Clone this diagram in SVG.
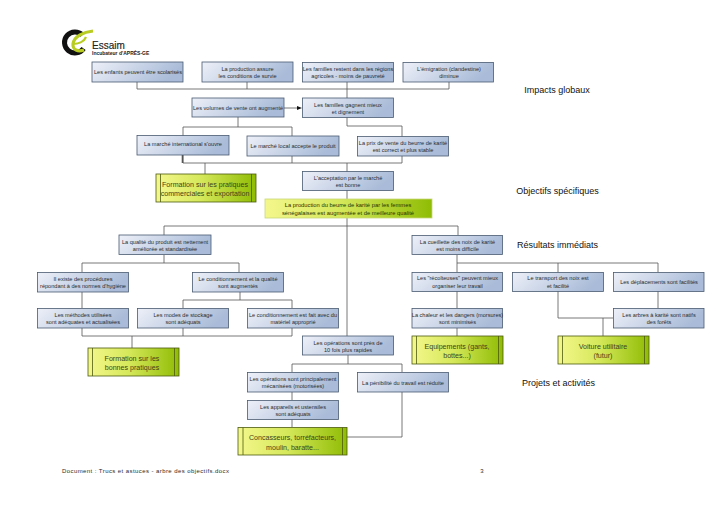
<svg xmlns="http://www.w3.org/2000/svg" width="728" height="515" viewBox="0 0 728 515">
<defs>
<linearGradient id="blue" x1="0" y1="0" x2="1" y2="0.25"><stop offset="0" stop-color="#edf0f8"/><stop offset="1" stop-color="#a9bbd8"/></linearGradient>
<linearGradient id="green" x1="0" y1="0" x2="1" y2="0"><stop offset="0" stop-color="#f4f78c"/><stop offset="0.45" stop-color="#d5e85a"/><stop offset="1" stop-color="#8fbc04"/></linearGradient>
</defs>
<style>
text{font-family:"Liberation Sans",Arial,sans-serif;text-anchor:middle;fill:#2b2b2b}
.b rect{fill:url(#blue);stroke:#4a5a70;stroke-width:.8}
.b text{font-size:5.6px}
.g rect{fill:url(#green);stroke:#4d5a10;stroke-width:.8}
.g line{stroke:#4d5a10;stroke-width:.8}
.g text{font-size:7.1px;fill:#3f4418}
.y rect{fill:url(#green);stroke:#c8d878;stroke-width:.8}
.y text{font-size:5.8px;fill:#2b3000}
.t{font-size:9px;fill:#111}
#connectors path{fill:none;stroke:#555;stroke-width:.8}
#connectors path.head{fill:#111;stroke:none}
</style>
<rect width="728" height="515" fill="#fff"/>
<g id="logo">
<path d="M82.400 35A10.500 10.500 0 1 0 83.600 48.500" fill="none" stroke="#111" stroke-width="5"/>
<path d="M93 31C84 32 74 36 73 44C72.500 50 78 52 84 50" fill="none" stroke="#b8cc22" stroke-width="3.200"/>
<path d="M73 44C78 44 84 42 86 37" fill="none" stroke="#b8cc22" stroke-width="2.200"/>
<text x="92" y="49" style="font-size:10px;text-anchor:start;fill:#222;stroke:#222;stroke-width:.15">Essaim</text>
<text x="92" y="55.300" style="font-size:5px;text-anchor:start;font-weight:bold;fill:#222">Incubateur d'APRÈS-GE</text>
</g>
<g id="connectors">
<path d="M137 82V89H449V82M247 82V89M347 82V98"/>
<path d="M284 108H299"/><path class="head" d="M297 106L302 108L297 110Z"/>
<path d="M238 117V127M183 136V127H292V136"/>
<path d="M347 117V126H402V137"/>
<path d="M183 155V163H402V156M292 156V163M347 163V172M205 163V174"/>
<path d="M182.500 155V163" style="stroke-width:1.600"/>
<path d="M347 190V199M347 218V336M164 235V226H458V235"/>
<path d="M164 255V263M82 272V263H239V272"/>
<path d="M82 292V308M240 292V300M183 308V300H292V308"/>
<path d="M82 328V336H292V328M183 328V336M132 336V348"/>
<path d="M348 355V364M292 372V364H402V372M292 392V400M292 419V427M402 392V437H347"/>
<path d="M457 255V272M457 263H658V272M558 263V272"/>
<path d="M457 291V308M457 328V336M558 291V318H613M658 291V308M603 318V336"/>
</g>
<g id="n1" class="b"><rect x="92" y="62" width="91" height="20"/><text x="138" y="74">Les enfants peuvent être scolarisés</text></g>
<g id="n2" class="b"><rect x="202" y="62" width="91" height="20"/><text x="247.500" y="70.500">La production assure</text><text x="247.500" y="77.500">les conditions de survie</text></g>
<g id="n3" class="b"><rect x="302.500" y="62.500" width="91" height="19.500"/><text x="348" y="70.500">Les familles restent dans les régions</text><text x="348" y="77.500">agricoles - moins de pauvreté</text></g>
<g id="n4" class="b"><rect x="403" y="62.500" width="90.500" height="19.500"/><text x="449" y="70.500">L'émigration (clandestine)</text><text x="449" y="77.500">diminue</text></g>
<g id="n5" class="b"><rect x="192" y="98" width="92" height="19"/><text x="238" y="110">Les volumes de vente ont augmenté</text></g>
<g id="n6" class="b"><rect x="302.500" y="98" width="91" height="19.500"/><text x="348" y="106.500">Les familles gagnent mieux</text><text x="348" y="113.500">et dignement</text></g>
<g id="n7" class="b"><rect x="137" y="135.500" width="92" height="19.500"/><text x="183" y="146">La marché international s'ouvre</text></g>
<g id="n8" class="b"><rect x="247" y="136" width="92" height="20"/><text x="293" y="148">Le marché local accepte le produit</text></g>
<g id="n9" class="b"><rect x="357.500" y="136.500" width="91" height="19.500"/><text x="403" y="144.500">La prix de vente du beurre de karité</text><text x="403" y="151.500">est correct et plus stable</text></g>
<g id="n10" class="b"><rect x="302.500" y="171.500" width="91" height="19"/><text x="348" y="179.500">L'acceptation par le marché</text><text x="348" y="186.500">est bonne</text></g>
<g id="n11" class="g"><rect x="156" y="174" width="100" height="28"/><line x1="160.500" y1="174" x2="160.500" y2="202"/><line x1="251.500" y1="174" x2="251.500" y2="202"/><text x="205" y="186.500">Formation sur les pratiques</text><text x="205" y="195.500">commerciales et exportation</text></g>
<g id="n12" class="y"><rect x="265" y="199" width="167" height="19"/><text x="348" y="207">La production du beurre de karité par les femmes</text><text x="348" y="214.500">sénégalaises est augmentée et de meilleure qualité</text></g>
<g id="n13" class="b"><rect x="119" y="235" width="92" height="19.500"/><text x="165" y="243.500">La qualité du produit est nettement</text><text x="165" y="250.500">améliorée et standardisée</text></g>
<g id="n14" class="b"><rect x="412" y="235.500" width="90.500" height="19"/><text x="457.500" y="243.500">La cueillette des noix de karité</text><text x="457.500" y="250.500">est moins difficile</text></g>
<g id="n15" class="b"><rect x="37.500" y="272.500" width="91" height="19.500"/><text x="83" y="280.500">Il existe des procédures</text><text x="83" y="287.500">répondant à des normes d'hygiène</text></g>
<g id="n16" class="b"><rect x="192.500" y="272.500" width="91" height="19.500"/><text x="238" y="280.500">Le conditionnement et la qualité</text><text x="238" y="287.500">sont augmentés</text></g>
<g id="n17" class="b"><rect x="412" y="272.500" width="90.500" height="19"/><text x="457.500" y="280">Les "récolteuses" peuvent mieux</text><text x="457.500" y="287.500">organiser leur travail</text></g>
<g id="n18" class="b"><rect x="512.500" y="272.500" width="91" height="19"/><text x="558" y="280">Le transport des noix est</text><text x="558" y="287.500">et facilité</text></g>
<g id="n19" class="b"><rect x="613.500" y="272.500" width="90.500" height="19"/><text x="659" y="284">Les déplacements sont facilités</text></g>
<g id="n20" class="b"><rect x="37.500" y="308.500" width="91" height="19.500"/><text x="83" y="316.500">Les méthodes utilisées</text><text x="83" y="323.500">sont adéquates et actualisées</text></g>
<g id="n21" class="b"><rect x="137.500" y="308.500" width="91" height="19.500"/><text x="183" y="316.500">Les modes de stockage</text><text x="183" y="323.500">sont adéquats</text></g>
<g id="n22" class="b"><rect x="247.500" y="308.500" width="91" height="19.500"/><text x="293" y="316.500">Le conditionnement est fait avec du</text><text x="293" y="323.500">matériel approprié</text></g>
<g id="n23" class="b"><rect x="412" y="308.500" width="90.500" height="19.500"/><text x="457.500" y="316.500">La chaleur et les dangers (morsures)</text><text x="457.500" y="323.500">sont minimisés</text></g>
<g id="n24" class="b"><rect x="613.500" y="308.500" width="90.500" height="19.500"/><text x="659" y="316.500">Les arbres à karité sont natifs</text><text x="659" y="323.500">des forêts</text></g>
<g id="n25" class="g"><rect x="88" y="348" width="91" height="28"/><line x1="92.500" y1="348" x2="92.500" y2="376"/><line x1="174.500" y1="348" x2="174.500" y2="376"/><text x="132" y="360.500">Formation sur les</text><text x="132" y="369.500">bonnes pratiques</text></g>
<g id="n26" class="g"><rect x="412" y="336" width="91" height="28"/><line x1="416.500" y1="336" x2="416.500" y2="364"/><line x1="498.500" y1="336" x2="498.500" y2="364"/><text x="457" y="348.500">Equipements (gants,</text><text x="457" y="357.500">bottes...)</text></g>
<g id="n27" class="g"><rect x="558" y="336" width="91" height="28"/><line x1="562.500" y1="336" x2="562.500" y2="364"/><line x1="644.500" y1="336" x2="644.500" y2="364"/><text x="603" y="348.500">Voiture utilitaire</text><text x="603" y="357.500">(futur)</text></g>
<g id="n28" class="b"><rect x="302.500" y="336" width="91" height="19"/><text x="348" y="344.500">Les opérations sont près de</text><text x="348" y="351.500">10 fois plus rapides</text></g>
<g id="n29" class="b"><rect x="247.500" y="372.500" width="91" height="19.500"/><text x="293" y="380.500">Les opérations sont principalement</text><text x="293" y="387.500">mécanisées (motorisées)</text></g>
<g id="n30" class="b"><rect x="357.500" y="372.500" width="91" height="19.500"/><text x="403" y="384.500">La pénibilité du travail est réduite</text></g>
<g id="n31" class="b"><rect x="247.500" y="400.500" width="91" height="19"/><text x="293" y="408.500">Les appareils et ustensiles</text><text x="293" y="415.500">sont adéquats</text></g>
<g id="n32" class="g"><rect x="238" y="427.500" width="109" height="27.500"/><line x1="243" y1="427.500" x2="243" y2="455"/><line x1="342.500" y1="427.500" x2="342.500" y2="455"/><text x="292.500" y="439.500">Concasseurs, torréfacteurs,</text><text x="292.500" y="449.500">moulin, baratte...</text></g>
<text class="t" x="557" y="93">Impacts globaux</text>
<text class="t" x="557.500" y="193.500">Objectifs spécifiques</text>
<text class="t" x="557.500" y="248">Résultats immédiats</text>
<text class="t" x="558.500" y="386">Projets et activités</text>
<text x="62" y="472.500" style="font-size:6px;text-anchor:start;letter-spacing:.42px">Document : Trucs et astuces - arbre des objectifs.docx</text>
<text x="482" y="472.500" style="font-size:6px">3</text>
</svg>
